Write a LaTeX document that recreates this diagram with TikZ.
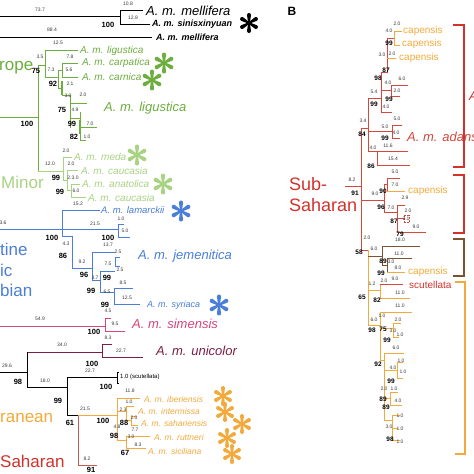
\documentclass[tikz,border=0pt]{standalone}
\usepackage{fontspec}
\setmainfont{Liberation Sans}
\definecolor{eu}{HTML}{6DAE3F}
\definecolor{am}{HTML}{A9D383}
\definecolor{lev}{HTML}{4A7ED8}
\definecolor{sim}{HTML}{D6457C}
\definecolor{uni}{HTML}{7C1E45}
\definecolor{med}{HTML}{F2AA3C}
\definecolor{sah}{HTML}{D3322C}
\definecolor{sahl}{HTML}{BE5A52}
\definecolor{rdb}{HTML}{D4483E}
\definecolor{brn}{HTML}{7B5232}
\definecolor{num}{HTML}{3A3A3A}
\tikzset{
  br/.style={line width=1pt},
  bl/.style={font=\fontsize{5}{5}\selectfont,text=num,inner sep=0pt},
  bs/.style={font=\fontsize{7.5}{7.5}\selectfont\bfseries,inner sep=0pt},
  bsb/.style={font=\fontsize{6.5}{6.5}\selectfont\bfseries,inner sep=0pt},
  tip/.style={anchor=west,inner sep=0pt,font=\fontsize{#1}{#1}\selectfont\itshape},
  tipb/.style={anchor=west,inner sep=0pt,font=\fontsize{#1}{#1}\selectfont\bfseries\itshape},
  grp/.style={anchor=west,inner sep=0pt,font=\fontsize{17}{17}\selectfont},
  pics/astk/.style={code={
    \foreach \a in {0,60,...,300}
      \fill[rotate=\a] (-0.08*#1,0) -- (-0.2*#1,0.8*#1) arc (180:0:0.2*#1) -- (0.08*#1,0) -- cycle;
  }},
  brack/.style={line width=2.4pt}
}
\begin{document}
\begin{tikzpicture}[x=1pt,y=-1pt]
\useasboundingbox[fill=white] (0,0) rectangle (474,474);

% ---- A: mellifera
\draw[br] (0,16) -- (120,16);
\draw[br] (143,10) -- (120,10) -- (120,24) -- (150,24);
\draw[br] (0,37) -- (152,37);
\node[bl] (n1) at (40,10) {73.7};
\node[bl] (n2) at (128,4) {10.8};
\node[bl] (n3) at (133,18) {12.8};
\node[bl] (n4) at (52,30) {88.4};
\node[bs] (s1) at (108,25) {100};
\node[tip=13] (mel1) at (146,11) {A. m. mellifera};
\node[tipb=9] (sinis) at (152,24) {A. m. sinisxinyuan};
\node[tipb=9] (mel2) at (156,37) {A. m. mellifera};
\pic[color=black] at (249,23) {astk=10};

% ---- A: Europe
\node[grp,text=eu] (europe) at (-1,68) {rope};
\draw[br,eu] (0,117) -- (38,117);
\draw[br,eu] (38,65) -- (38,171);
\draw[br,eu] (38,65) -- (45,65);
\draw[br,eu] (78,50) -- (45,50) -- (45,77) -- (58,77);
\draw[br,eu] (58,70) -- (58,88);
\draw[br,eu] (58,70) -- (62,70);
\draw[br,eu] (78,63) -- (62,63) -- (62,77) -- (78,77);
\draw[br,eu] (58,88) -- (62,88);
\draw[eu,line width=2pt] (62,81) -- (62,95);
\draw[br,eu] (62,95) -- (70,95) -- (70,128);
\draw[br,eu] (70,103) -- (87,103);
\draw[br,eu] (70,118) -- (80,118);
\draw[br,eu] (80,112) -- (80,140);
\draw[eu,line width=2pt] (80,120) -- (80,134);
\draw[br,eu] (80,127) -- (97,127);
\draw[br,eu] (80,140) -- (86,140);
\node[bl] (n5) at (58,43) {12.5};
\node[bl] (n6) at (40,57) {3.5};
\node[bs] (s2) at (36,71) {75};
\node[bl] (n7) at (51,70) {7.3};
\node[bl] (n8) at (70,57) {7.8};
\node[bl] (n9) at (69,70) {5.6};
\node[bs] (s3) at (53,84) {92};
\node[bl] (n10) at (70,84) {2.1};
\node[bl] (n11) at (68,96) {3.0};
\node[bl] (n12) at (83,95) {2.0};
\node[bs] (s4) at (62,110) {75};
\node[bl] (n13) at (75,110) {4.9};
\node[bs] (s5) at (72,124) {99};
\node[bl] (n14) at (90,124) {7.0};
\node[bs] (s6) at (74,137) {82};
\node[bl] (n15) at (87,137) {1.0};
\node[bs] (s7) at (27,124) {100};
\node[tip=10,text=eu] (lig1) at (80,51) {A. m. ligustica};
\node[tip=10,text=eu] (carp) at (82,63) {A. m. carpatica};
\node[tip=10,text=eu] (carn) at (82,77) {A. m. carnica};
\node[tip=13,text=eu] (lig2) at (104,108) {A. m. ligustica};
\pic[color=eu] at (164,63) {astk=10.5};
\pic[color=eu] at (152,80) {astk=10.5};

% ---- A: Asia Minor
\node[grp,text=am] (minor) at (1,182) {Minor};
\draw[br,am] (38,171) -- (63,171);
\draw[br,am] (72,157) -- (63,157) -- (63,180) -- (67,180);
\draw[br,am] (78,170) -- (67,170) -- (67,190) -- (71,190);
\draw[br,am] (80,184) -- (71,184) -- (71,197) -- (86,197);
\node[bl] (n16) at (50,164) {12.0};
\node[bl] (n17) at (66,151) {2.0};
\node[bl] (n18) at (71,164) {2.0};
\node[bs] (s8) at (56,178) {99};
\node[bl] (n19) at (73,178) {2.3.0};
\node[bs] (s9) at (60,192) {99};
\node[bl] (n20) at (76,191) {6.0};
\node[tip=10,text=am] (meda) at (74,157) {A. m. meda};
\node[tip=10,text=am] (cauc1) at (81,171) {A. m. caucasia};
\node[tip=10,text=am] (anat) at (82,184) {A. m. anatolica};
\node[tip=10,text=am] (cauc2) at (88,198) {A. m. caucasia};
\pic[color=am] at (137,155) {astk=10.5};
\pic[color=am] at (163,184) {astk=10.5};

% ---- A: Levant / Yemen
\node[grp,text=lev] (tine) at (0,249) {tine};
\node[grp,text=lev] (ic) at (0,270) {ic};
\node[grp,text=lev] (bian) at (0,290) {bian};
\draw[br,lev] (0,229) -- (118,229);
\draw[br,lev] (100,210) -- (62,210) -- (62,236) -- (72,236);
\draw[br,lev] (124,224) -- (118,224) -- (118,237) -- (130,237);
\draw[br,lev] (72,236) -- (72,268) -- (92,268);
\draw[br,lev] (92,252) -- (92,280) -- (100,280);
\draw[br,lev] (92,252) -- (115,252);
\draw[br,lev] (120,257) -- (115,257) -- (115,266) -- (120,266);
\draw[br,lev] (100,271) -- (100,292) -- (114,292);
\draw[br,lev] (100,271) -- (115,271);
\draw[br,lev] (133,288) -- (114,288) -- (114,304) -- (140,304);
\node[bl] (n21) at (3,223) {3.6};
\node[bl] (n22) at (78,204) {15.2};
\node[bl] (n23) at (95,224) {21.5};
\node[bl] (n24) at (121,219) {1.0};
\node[bl] (n25) at (125,231) {5.0};
\node[bs] (s10) at (52,238) {100};
\node[bs] (s11) at (108,238) {100};
\node[bl] (n26) at (66,244) {4.3};
\node[bs] (s12) at (63,256) {86};
\node[bl] (n27) at (82,262) {9.2};
\node[bs] (s13) at (84,275) {96};
\node[bl] (n28) at (108,245) {13.7};
\node[bl] (n29) at (118,252) {2.5};
\node[bl] (n30) at (108,264) {7.5};
\node[bl] (n31) at (120,270) {2.5};
\node[bl] (n32) at (95,278) {3.7};
\node[bs] (s14) at (107,278) {99};
\node[bl] (n33) at (123,283) {8.5};
\node[bl] (n34) at (107,292) {6.5};
\node[bs] (s15) at (91,291) {99};
\node[bl] (n35) at (127,298) {12.5};
\node[bs] (s16) at (105,305) {99};
\node[tip=9.5,text=lev] (lam) at (101,210) {A. m. lamarckii};
\node[tip=13,text=lev] (jem) at (138,256) {A. m. jemenitica};
\node[tip=9,text=lev] (syr) at (147,305) {A. m. syriaca};
\pic[color=lev] at (181,211) {astk=10.5};
\pic[color=lev] at (219,305) {astk=10.5};

% ---- A: simensis, unicolor
\draw[br,sim] (0,326) -- (105,326);
\draw[br,sim] (111,318) -- (105,318) -- (105,331) -- (125,331);
\node[bl] (n36) at (40,319) {54.9};
\node[bl] (n37) at (108,311) {4.5};
\node[bl] (n38) at (115,324) {9.5};
\node[bs] (s17) at (94,332) {100};
\node[tip=13,text=sim] (simen) at (132,324) {A. m. simensis};
\draw[br,uni] (27,352) -- (102,352);
\draw[br,uni] (112,344) -- (102,344) -- (102,357) -- (143,357);
\node[bl] (n39) at (62,345) {34.0};
\node[bl] (n40) at (108,338) {8.3};
\node[bl] (n41) at (121,351) {22.7};
\node[bs] (s18) at (92,364) {100};
\node[tip=13,text=uni] (unic) at (156,351) {A. m. unicolor};

% ---- A: Mediterranean, Saharan
\node[grp,text=med] (ranean) at (0,418) {ranean};
\node[grp,text=sah] (sahA) at (0,461) {Saharan};
\draw[br] (0,372) -- (27,372);
\draw[br] (27,352) -- (27,387) -- (67,387);
\draw[br] (117,377) -- (67,377) -- (67,415) -- (78,415);
\draw[br] (119,372) -- (117,372) -- (117,383) -- (119,383);
\draw[br,sahl] (78,415) -- (78,465) -- (97,465);
\draw[br,med] (78,415) -- (117,415);
\draw[br,med] (140,398) -- (117,398) -- (117,440);
\draw[br,med] (117,411) -- (126,411);
\draw[br,med] (134,406) -- (126,406) -- (126,420) -- (131,420);
\draw[br,med] (137,416) -- (131,416) -- (131,425) -- (138,425);
\draw[br,med] (117,440) -- (126,440);
\draw[br,med] (150,436) -- (126,436) -- (126,448) -- (146,448);
\node[bl] (n42) at (7,366) {29.6};
\node[bs] (s19) at (18,382) {98};
\node[bl] (n43) at (45,381) {18.0};
\node[bs] (s20) at (58,401) {99};
\node[bl] (n44) at (90,371) {22.7};
\node[bs] (s21) at (106,387) {100};
\node[font=\fontsize{6}{6}\selectfont,anchor=west,inner sep=0pt] (scut) at (120,377) {1.0 (scutellata)};
\node[bs] (s22) at (70,423) {61};
\node[bl] (n45) at (85,409) {21.5};
\node[bl] (n46) at (87,459) {8.2};
\node[bs] (s23) at (91,470) {91};
\node[bs] (s24) at (103,421) {100};
\node[bl] (n47) at (130,391) {11.8};
\node[bl] (n48) at (129,402) {1.0};
\node[bl] (n49) at (123,410) {2.3};
\node[bl] (n50) at (134,418) {2.0};
\node[bs] (s25) at (124,423) {88};
\node[bl] (n51) at (117,427) {4.8};
\node[bs] (s26) at (114,436) {98};
\node[bl] (n52) at (135,430) {7.7};
\node[bl] (n53) at (131,437) {3.0};
\node[bl] (n54) at (138,445) {8.3};
\node[bs] (s27) at (125,453) {67};
\node[tip=8.5,text=med] (iber) at (144,399) {A. m. iberiensis};
\node[tip=8.5,text=med] (inter) at (138,411) {A. m. intermissa};
\node[tip=8.5,text=med] (sahar) at (141,423) {A. m. sahariensis};
\node[tip=8.5,text=med] (rutt) at (154,437) {A. m. ruttneri};
\node[tip=8.5,text=med] (sicil) at (148,451) {A. m. siciliana};
\pic[color=med] at (223,396) {astk=10};
\pic[color=med] at (225,412) {astk=10};
\pic[color=med] at (242,424) {astk=10};
\pic[color=med] at (227,438) {astk=10};
\pic[color=med] at (232,454) {astk=10};

% ---- B
\node[font=\fontsize{12}{12}\selectfont\bfseries] (B) at (292,11) {B};
\node[font=\fontsize{18}{18}\selectfont,text=sah,anchor=west,inner sep=0pt] (sub) at (289,184) {Sub-};
\node[font=\fontsize{18}{18}\selectfont,text=sah,anchor=west,inner sep=0pt] (sahB) at (289,205) {Saharan};
\draw[br,med] (402,31) -- (394,31) -- (394,45) -- (400,45);
\draw[br,rdb] (394,38) -- (387,38) -- (387,72) -- (381,72);
\draw[br,med] (387,58) -- (396,58);
\draw[br,rdb] (381,72) -- (381,112) -- (392,112);
\draw[br,rdb] (381,90) -- (391,90);
\draw[br,rdb] (408,85) -- (391,85) -- (391,96) -- (400,96);
\draw[br,rdb] (361,128) -- (368,128);
\draw[br,rdb] (381,98) -- (368,98) -- (368,151) -- (408,151);
\draw[br,rdb] (368,131) -- (392,131);
\draw[br,rdb] (402,125) -- (392,125) -- (392,138) -- (400,138);
\draw[br,rdb] (377,151) -- (377,165) -- (410,165);
\draw[br,rdb] (345,186) -- (361,186);
\draw[br,rdb] (361,128) -- (361,250) -- (368,250);
\draw[br,rdb] (361,200) -- (384,200);
\draw[br,rdb] (387,184) -- (384,184) -- (384,212) -- (397,212);
\draw[br,rdb] (400,178) -- (387,178) -- (387,191);
\draw[br,med] (387,191) -- (405,191);
\draw[br,rdb] (405,205) -- (397,205) -- (397,232) -- (426,232);
\draw[br,rdb] (397,218) -- (404,218);
\draw[rdb,densely dotted] (404,215) rectangle (409,222);
\draw[br,med] (368,250) -- (368,325);
\draw[br,brn] (368,256) -- (382,256);
\draw[br,brn] (420,246) -- (382,246) -- (382,265) -- (387,265);
\draw[br,brn] (412,258) -- (387,258) -- (387,272);
\draw[br,med] (387,272) -- (405,272);
\draw[br,med] (368,290) -- (380,290);
\draw[br,med] (380,284) -- (380,298) -- (410,298);
\draw[br,rdb] (380,284) -- (403,284);
\draw[br,med] (368,325) -- (380,325);
\draw[br,med] (412,312) -- (380,312) -- (380,360) -- (384,360);
\draw[br,med] (380,328) -- (393,328);
\draw[br,med] (401,323) -- (393,323) -- (393,337) -- (399,337);
\draw[br,med] (404,353) -- (384,353) -- (384,420) -- (392,420);
\draw[br,med] (384,370) -- (397,370);
\draw[br,med] (403,362) -- (397,362) -- (397,378) -- (403,378);
\draw[br,med] (384,398) -- (390,398);
\draw[br,med] (398,392) -- (390,392) -- (390,405) -- (402,405);
\draw[br,med] (400,415) -- (392,415) -- (392,440) -- (400,440);
\draw[br,med] (392,428) -- (398,428);
% B numbers
\node[bl] (m1) at (397,24) {2.0};
\node[bl] (m2) at (389,31) {4.0};
\node[bsb] (t1) at (389,43) {99};
\node[bl] (m3) at (382,55) {3.0};
\node[bl] (m4) at (392,54) {2.0};
\node[bsb] (t2) at (386,70) {87};
\node[bsb] (t3) at (378,78) {98};
\node[bl] (m5) at (402,79) {6.0};
\node[bl] (m6) at (388,83) {4.0};
\node[bl] (m7) at (397,91) {2.0};
\node[bsb] (t4) at (389,99) {99};
\node[bl] (m8) at (374,92) {5.4};
\node[bsb] (t5) at (374,104) {99};
\node[bl] (m9) at (386,107) {4.0};
\node[bl] (m10) at (363,121) {3.4};
\node[bsb] (t6) at (362,134) {84};
\node[bl] (m11) at (397,119) {5.0};
\node[bl] (m12) at (385,127) {5.0};
\node[bl] (m13) at (396,133) {4.0};
\node[bsb] (t7) at (385,138) {99};
\node[bl] (m14) at (388,146) {11.6};
\node[bl] (m15) at (373,148) {4.0};
\node[bl] (m16) at (393,159) {15.4};
\node[bsb] (t8) at (371,166) {86};
\node[bl] (m17) at (395,172) {5.0};
\node[bl] (m18) at (352,180) {8.2};
\node[bsb] (t9) at (355,193) {91};
\node[bl] (m19) at (375,194) {9.0};
\node[bsb] (t10) at (383,191) {90};
\node[bl] (m20) at (395,185) {7.0};
\node[bl] (m21) at (405,198) {2.9};
\node[bsb] (t11) at (381,207) {96};
\node[bl] (m22) at (391,208) {7.0};
\node[bl] (m23) at (408,211) {2.0};
\node[bsb] (t12) at (394,221) {87};
\node[bl] (m24) at (406,219) {2.1};
\node[bl] (m25) at (416,227) {9.0};
\node[bsb] (t13) at (400,234) {79};
\node[bl] (m26) at (400,240) {18.0};
\node[bl] (m27) at (367,238) {2.0};
\node[bsb] (t14) at (359,252) {58};
\node[bl] (m28) at (374,249) {6.0};
\node[bl] (m29) at (399,254) {11.0};
\node[bsb] (t15) at (383,261) {89};
\node[bl] (m30) at (391,262) {3.0};
\node[bsb] (t16) at (381,273) {99};
\node[bl] (m31) at (398,268) {8.0};
\node[bl] (m32) at (395,279) {9.0};
\node[bl] (m33) at (372,284) {1.2};
\node[bl] (m34) at (384,281) {2.0};
\node[bsb] (t17) at (377,300) {82};
\node[bl] (m35) at (400,293) {11.0};
\node[bsb] (t18) at (362,297) {65};
\node[bl] (m36) at (400,306) {11.0};
\node[bl] (m37) at (382,316) {1.0};
\node[bl] (m38) at (374,320) {6.0};
\node[bl] (m39) at (398,320) {2.0};
\node[bsb] (t19) at (372,330) {98};
\node[bsb] (t20) at (383,329) {75};
\node[bl] (m40) at (393,331) {3.0};
\node[bl] (m41) at (400,335) {1.0};
\node[bsb] (t21) at (387,340) {99};
\node[bl] (m42) at (396,348) {6.0};
\node[bsb] (t22) at (378,364) {92};
\node[bl] (m43) at (401,361) {1.0};
\node[bl] (m44) at (393,368) {4.0};
\node[bl] (m45) at (403,372) {1.0};
\node[bsb] (t23) at (391,381) {99};
\node[bl] (m46) at (384,389) {2.0};
\node[bl] (m47) at (394,389) {1.0};
\node[bsb] (t24) at (383,399) {89};
\node[bsb] (t25) at (386,407) {89};
\node[bl] (m48) at (398,401) {4.0};
\node[bl] (m49) at (400,416) {1.0};
\node[bl] (m50) at (389,427) {3.0};
\node[bl] (m51) at (400,429) {1.0};
\node[bsb] (t26) at (390,439) {98};
\node[bl] (m52) at (400,442) {1.0};
% B tips
\node[tip=10,font=\fontsize{10}{10}\selectfont,text=med] (cap1) at (403,31) {capensis};
\node[tip=10,font=\fontsize{10}{10}\selectfont,text=med] (cap2) at (402,44) {capensis};
\node[tip=10,font=\fontsize{10}{10}\selectfont,text=med] (cap3) at (399,58) {capensis};
\node[tip=10,font=\fontsize{10}{10}\selectfont,text=med] (cap4) at (408,191) {capensis};
\node[tip=10,font=\fontsize{10}{10}\selectfont,text=med] (cap5) at (408,272) {capensis};
\node[tip=10,font=\fontsize{10}{10}\selectfont,text=sah] (scutB) at (409,285) {scutellata};
\node[tip=13,text=rdb] (adans) at (407,137) {A. m. adans};
\node[tip=13,text=sah] (bigA) at (469,96) {A};
% brackets
\draw[brack,sah] (453,25) -- (464,25) -- (464,167) -- (453,167);
\draw[brack,sah] (453,175) -- (464,175) -- (464,233) -- (453,233);
\draw[brack,brn] (453,239) -- (464,239) -- (464,276) -- (453,276);
\draw[brack,med] (455,282) -- (465,282) -- (465,454) -- (455,454);
\end{tikzpicture}
\end{document}
